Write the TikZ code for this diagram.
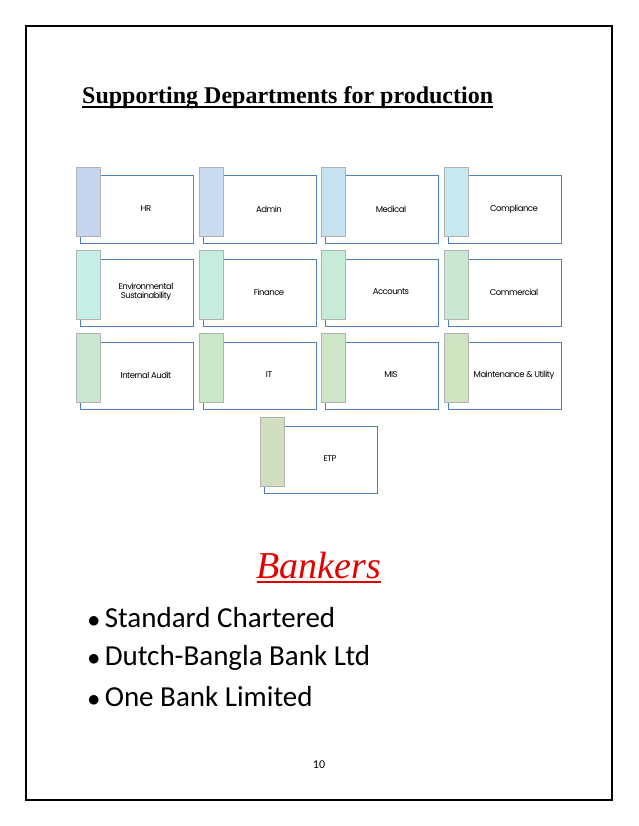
\documentclass[tikz,border=0pt]{standalone}
\usepackage{fontspec}
\setmainfont{Carlito}
\newfontfamily\boxfont{Poppins}
\newfontfamily\serifx{Liberation Serif}
\begin{document}
\begin{tikzpicture}[x=1pt,y=-1pt,
  dbox/.style={draw=bordc, line width=1pt, fill=white},
  tab/.style={draw=gray!60, line width=0.6pt},
  lbl/.style={font=\boxfont\fontsize{8.5}{9.5}\selectfont\addfontfeature{LetterSpace=-6}, align=center, text=black}]
\definecolor{bordc}{HTML}{4F81BD}
\useasboundingbox (0,0) rectangle (638,826);
\draw[line width=1.6pt] (26,26) rectangle (612,800);
\node[font=\serifx\bfseries\fontsize{24}{28}\selectfont, anchor=base west, inner sep=0pt] (title) at (82,104) {Supporting Departments for production};
\draw[line width=1.5pt] ([yshift=-3pt]title.base west) -- ([yshift=-3pt]title.base east);
\newcommand{\mydep}[5]{%
  \draw[dbox] (#2+4,#3+9) rectangle (#2+117,#3+76);
  \fill[#4] (#2,#3) rectangle (#2+24,#3+69);
  \draw[tab] (#2,#3) rectangle (#2+24,#3+69);
  \node[lbl] (#1) at (#2+70,#3+42) {#5};}
\definecolor{c1}{HTML}{C6D4F0}\definecolor{c2}{HTML}{C9DCF0}
\definecolor{c3}{HTML}{C6E2F0}\definecolor{c4}{HTML}{C8E8F0}
\definecolor{c5}{HTML}{C6EEE8}\definecolor{c6}{HTML}{C6EDE0}
\definecolor{c7}{HTML}{C6ECD8}\definecolor{c8}{HTML}{C9E8D4}
\definecolor{c9}{HTML}{CBE6D0}\definecolor{c10}{HTML}{CBE8C8}
\definecolor{c11}{HTML}{CDE6C8}\definecolor{c12}{HTML}{D0E4C4}
\definecolor{c13}{HTML}{D2DEC0}
\mydep{hr}{76}{167}{c1}{HR}
\mydep{admin}{199}{167}{c2}{Admin}
\mydep{medical}{321}{167}{c3}{Medical}
\mydep{compliance}{444}{167}{c4}{Compliance}
\mydep{env}{76}{250}{c5}{Environmental\\Sustainability}
\mydep{finance}{199}{250}{c6}{Finance}
\mydep{accounts}{321}{250}{c7}{Accounts}
\mydep{commercial}{444}{250}{c8}{Commercial}
\mydep{audit}{76}{333}{c9}{Internal Audit}
\mydep{it}{199}{333}{c10}{IT}
\mydep{mis}{321}{333}{c11}{MIS}
\mydep{maint}{444}{333}{c12}{Maintenance \& Utility}
\mydep{etp}{260}{417}{c13}{ETP}
\node[font=\serifx\itshape\fontsize{38}{42}\selectfont, text=red!90!black, anchor=base, inner sep=0pt] (bankers) at (319,578) {Bankers};
\draw[red!90!black, line width=1.5pt] ([yshift=-4pt]bankers.base west) -- ([yshift=-4pt]bankers.base east);
\foreach \n/\t/\yy in {b1/Standard Chartered/618, b2/Dutch-Bangla Bank Ltd/658, b3/One Bank Limited/697}{
  \node[anchor=west, font=\fontsize{29}{32}\selectfont] (\n) at (84,\yy) {$\bullet$\,\t};}
\node[font=\fontsize{12}{14}\selectfont] (page) at (319,765) {10};
\end{tikzpicture}
\end{document}
